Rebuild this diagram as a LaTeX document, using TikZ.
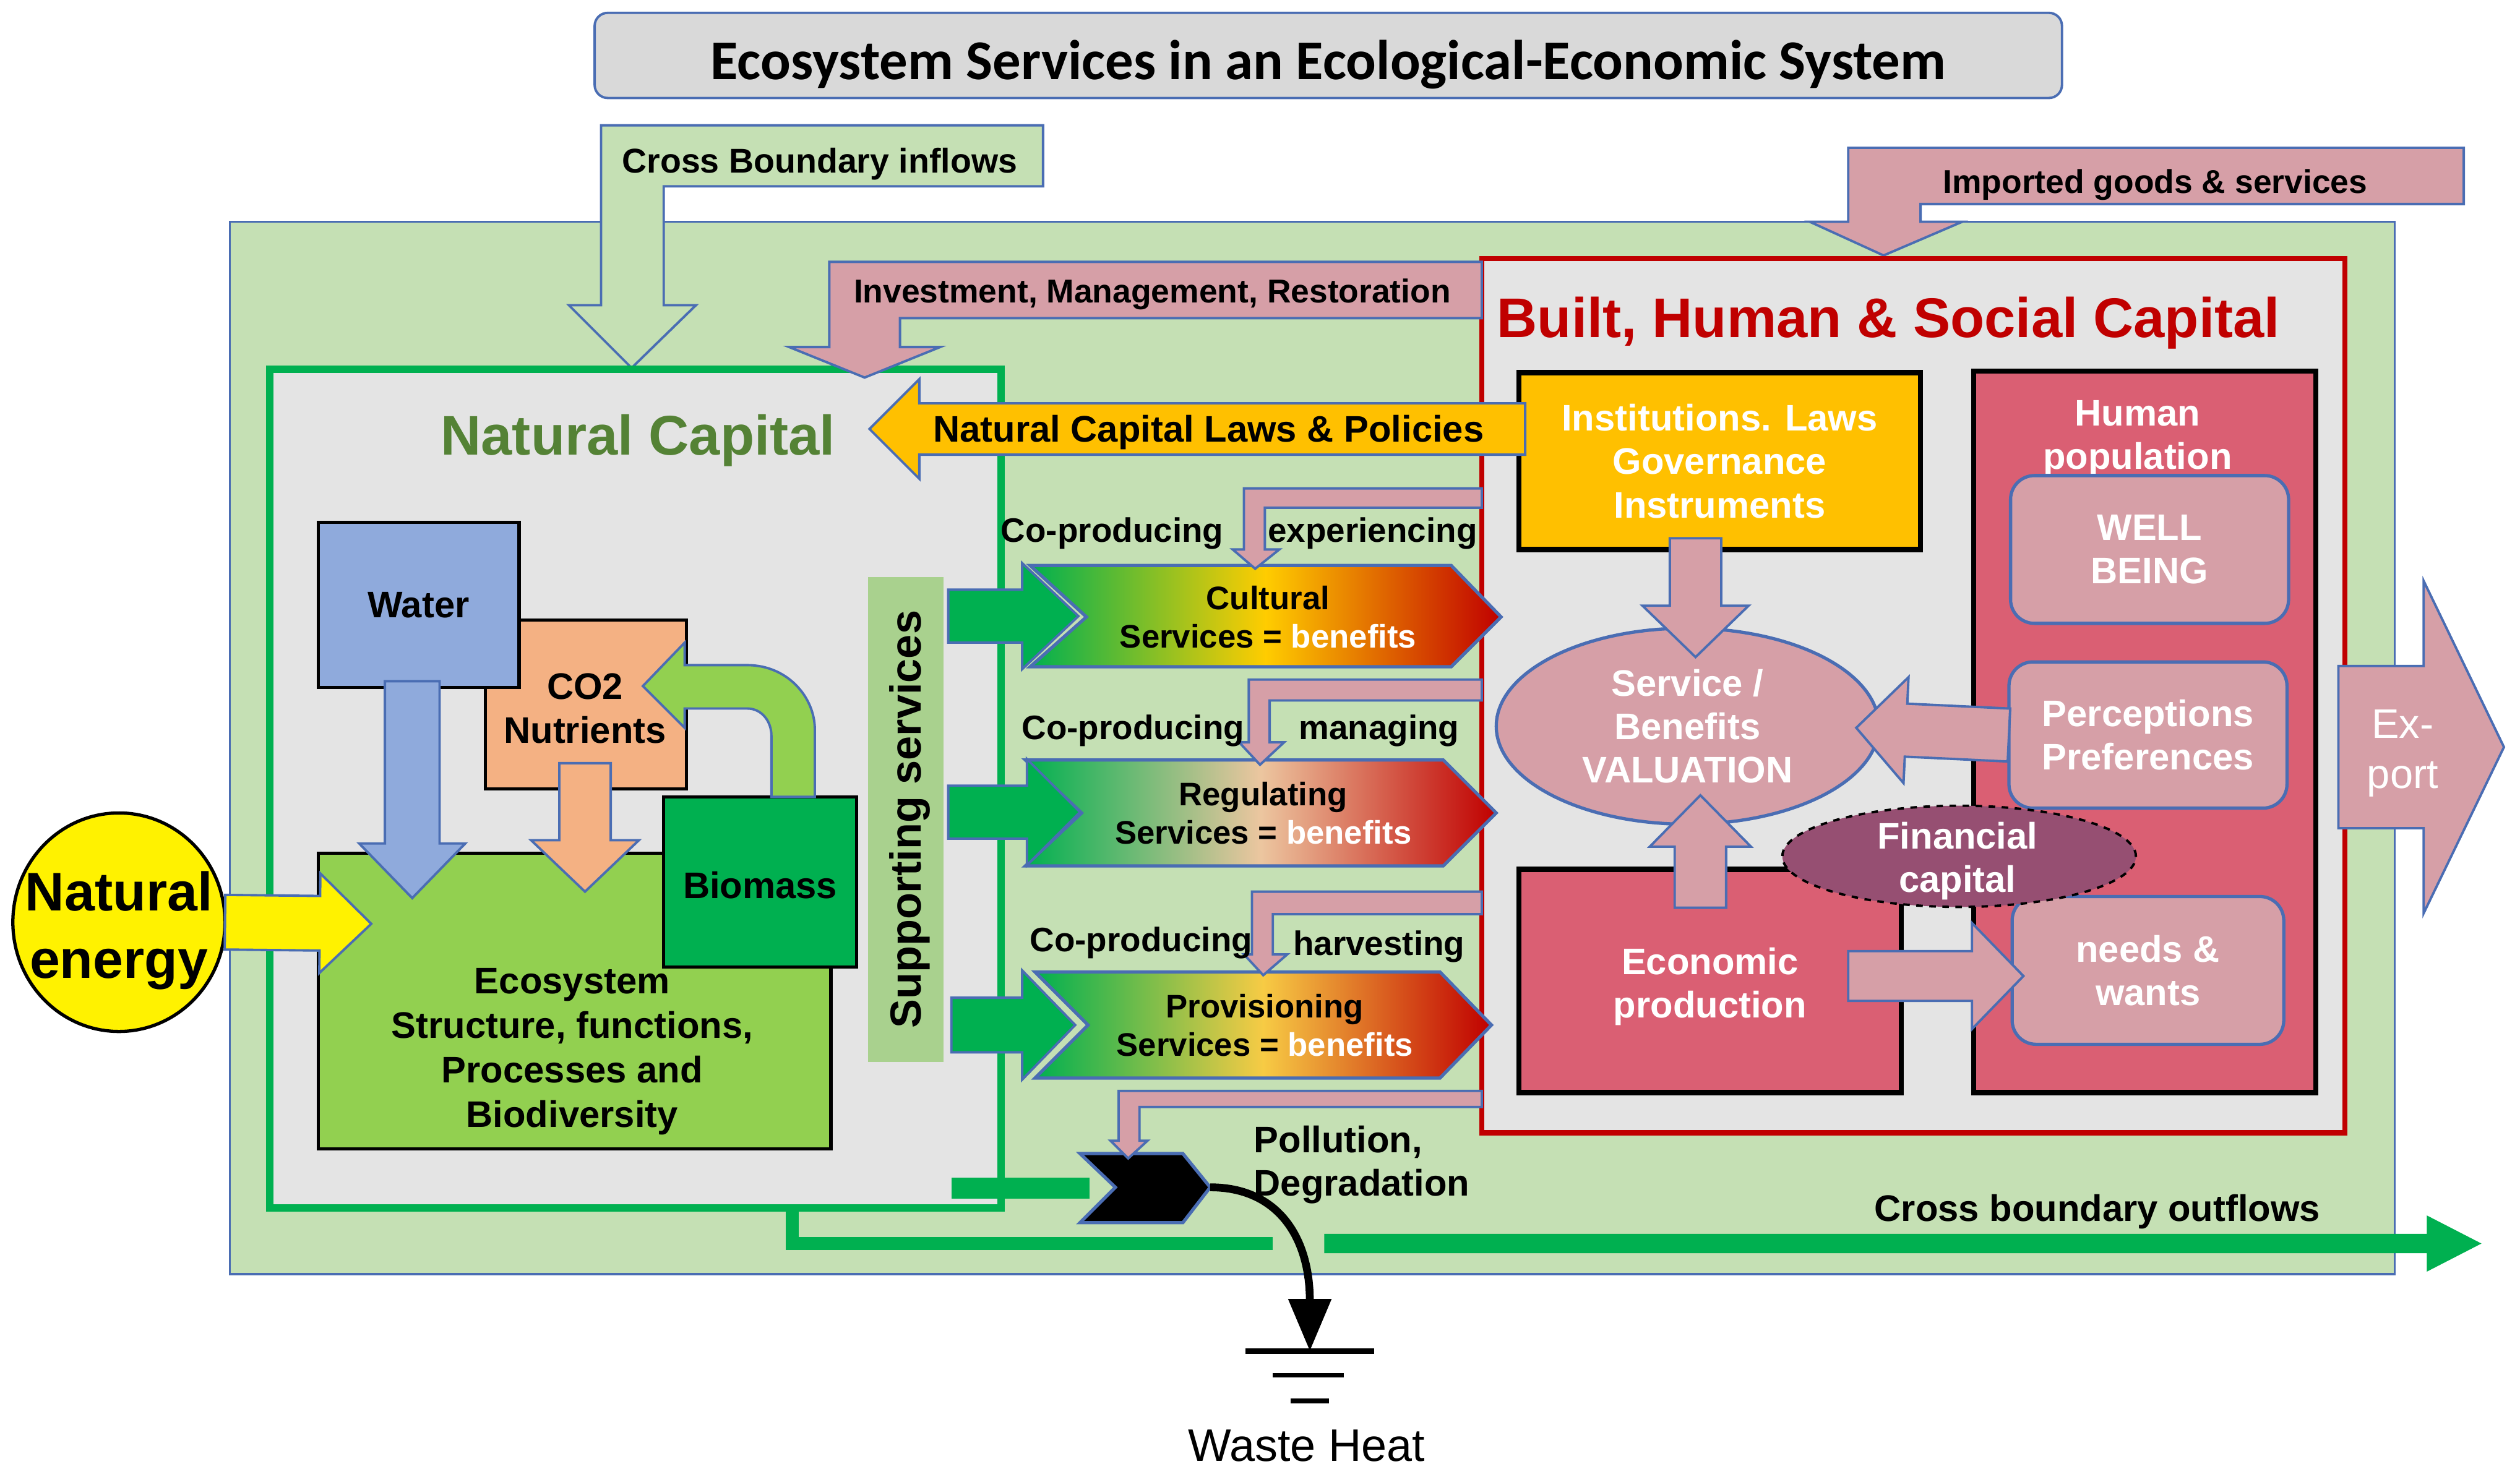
\documentclass[tikz,border=0pt]{standalone}
\usepackage{fontspec}
\setmainfont{Liberation Sans}
\newfontfamily\titlefont{Carlito}
\usetikzlibrary{calc,shapes.geometric,arrows.meta}
\definecolor{edgeblue}{HTML}{4A6DB3}
\definecolor{systemgreen}{HTML}{C5E0B4}
\definecolor{panelgray}{HTML}{E4E4E4}
\definecolor{capitalgreen}{HTML}{00B050}
\definecolor{leafgreen}{HTML}{92D050}
\definecolor{sagegreen}{HTML}{A9D18E}
\definecolor{titlegreen}{HTML}{548235}
\definecolor{capitalred}{HTML}{C00000}
\definecolor{dustypink}{HTML}{D69FA7}
\definecolor{rosered}{HTML}{DA5F73}
\definecolor{plum}{HTML}{964F72}
\definecolor{goldbox}{HTML}{FFC000}
\definecolor{waterblue}{HTML}{8FAADC}
\definecolor{sandorange}{HTML}{F4B183}
\newcommand{\ux}{0.025976cm}
\newcommand{\blockarrow}[6]{
  \coordinate (base) at ($(#3)!#6*\ux!(#2)$);
  \draw[#1] ($(#2)!#4*\ux!90:(base)$) -- ($(base)!#4*\ux!-90:(#2)$)
    -- ($(base)!#5*\ux!-90:(#2)$) -- (#3) -- ($(base)!#5*\ux!90:(#2)$)
    -- ($(base)!#4*\ux!90:(#2)$) -- ($(#2)!#4*\ux!-90:(base)$) -- cycle;
}
\begin{document}
\begin{tikzpicture}
  [x=0.025976cm,y=-0.025976cm,
  sized/.style 2 args={minimum width=#1*\ux,minimum height=#2*\ux,inner sep=0pt,outer sep=0pt},
  lbl/.style={font=\bfseries\fontsize{17}{20}\selectfont,align=center,inner sep=0pt},
  smalllbl/.style={font=\bfseries\fontsize{15.2}{20}\selectfont,align=center,inner sep=0pt},
  coprodlbl/.style={font=\bfseries\fontsize{15.6}{20}\selectfont,align=center,inner sep=0pt},
  servlbl/.style={font=\bfseries\fontsize{15}{17.7}\selectfont,align=center,inner sep=0pt},
  whitelbl/.style={lbl,text=white},
  bigtitle/.style={font=\bfseries\fontsize{25.7}{30}\selectfont,inner sep=0pt},
  blackbox/.style={draw=black,line width=1.5pt},
  heavybox/.style={draw=black,line width=2.4pt},
  softbox/.style={draw=edgeblue,fill=dustypink,line width=1.5pt,rounded corners=11pt},
  flow/.style={draw=edgeblue,line width=1.1pt,miter limit=20},
  pinkflow/.style={flow,fill=dustypink},
  greenflow/.style={flow,fill=capitalgreen},
  servicebox/.style={flow,line width=1.5pt,left color=capitalgreen,right color=capitalred}]

  \useasboundingbox (0,0) rectangle (1568,919);

  % frame and heading
  \node[sized={1347}{655},draw=edgeblue,fill=systemgreen,line width=1.1pt] (system) at (816.5,465.5) {};
  \node[sized={913}{53},draw=edgeblue,fill=black!15,line width=1.1pt,rounded corners=6pt] (heading) at (826.5,34.5) {};
  \node[font=\titlefont\bfseries\fontsize{25.85}{30}\selectfont,inner sep=0pt] (headinglbl) at (826.5,40) {Ecosystem Services in an Ecological-Economic System};

  % flows from outside
  \coordinate (inflowtip) at (393,229);
  \coordinate (importtip) at (1172,159);
  \draw[flow,fill=systemgreen] (374,78) -- (649,78) -- (649,116) -- (413,116) -- (413,190)
    -- (433,190) -- (inflowtip) -- (354,190) -- (374,190) -- cycle;
  \node[smalllbl,font=\bfseries\fontsize{15.8}{20}\selectfont] (inflowlbl) at (510,102) {Cross Boundary inflows};
  \draw[pinkflow] (1150,92) -- (1533,92) -- (1533,127) -- (1195,127) -- (1195,138)
    -- (1221,138) -- (importtip) -- (1126,138) -- (1150,138) -- cycle;
  \node[smalllbl] (importlbl) at (1341,115) {Imported goods \& services};

  % the two capitals
  \node[sized={455}{522},draw=capitalgreen,fill=panelgray,line width=3.4pt] (natcap) at (395.5,491) {};
  \node[sized={537}{544},draw=capitalred,fill=panelgray,line width=2.4pt] (built) at (1190.5,433) {};
  \node[bigtitle,text=titlegreen] (natcaplbl) at (397,274) {Natural Capital};
  \node[bigtitle,text=capitalred] (builtlbl) at (1175,201) {Built, Human \& Social Capital};

  \coordinate (investtip) at (538,235);
  \draw[pinkflow] (built.west |- 0,163) -- (516,163) -- (516,198) -- (516,216) -- (491,216)
    -- (investtip) -- (585,216) -- (560,216) -- (560,198) -- (built.west |- 0,198) -- cycle;
  \node[smalllbl] (investlbl) at (717,183) {Investment, Management, Restoration};

  % natural capital stocks
  \node[sized={125}{105},blackbox,fill=sandorange] (co2) at (364.5,438.5) {};
  \node[lbl] (co2lbl) at (364,441) {CO2\\Nutrients};
  \node[sized={125}{103},blackbox,fill=waterblue,lbl,inner sep=0pt] (water) at (260.5,376.5) {Water};
  \node[sized={319}{184},blackbox,fill=leafgreen] (ecosystem) at (357.5,623) {};
  \node[sized={120}{106},blackbox,fill=capitalgreen] (biomass) at (473,549) {};
  \node[lbl] (biomasslbl) at (473,551) {Biomass};
  \node[lbl,font=\bfseries\fontsize{17}{20.5}\selectfont] (ecosystemlbl) at (356,654.5) {Ecosystem\\Structure, functions,\\Processes and\\Biodiversity};
  \node[sized={132}{136},draw=black,fill=yellow,line width=1.5pt,shape=ellipse] (energy) at (74,574) {};
  \node[font=\bfseries\fontsize{25}{31}\selectfont,align=center,inner sep=0pt] (energylbl) at (74,579) {Natural\\energy};

  \coordinate (watertail) at (256.5,424);
  \coordinate (watertip) at (256.5,559);
  \coordinate (co2tail) at (364,475);
  \coordinate (co2tip) at (364,555);
  \coordinate (energytip) at (231,575);
  \coordinate (biomasstip) at (400,427);
  \blockarrow{flow,fill=waterblue}{watertail}{watertip}{17}{33}{34}
  \blockarrow{flow,fill=sandorange}{co2tail}{co2tip}{16}{33.5}{32}
  \blockarrow{flow,fill=yellow}{energy.east}{energytip}{17}{31}{32}
  \draw[flow,fill=leafgreen] (biomass.north -| 480,0) -- (480,458) .. controls (480,449) and (474,441) .. (465,441)
    -- (426,441) -- (426,453) -- (biomasstip) -- (426,400) -- (426,414) -- (465,414)
    .. controls (490,414) and (507,434) .. (507,454) -- (biomass.north -| 507,0) -- cycle;

  % services
  \node[sized={47}{302},fill=sagegreen] (supporting) at (563.5,510) {};
  \node[rotate=90,font=\bfseries\fontsize{20}{24}\selectfont,inner sep=0pt] (supportinglbl) at (566,510) {Supporting services};

  \path[servicebox,middle color=goldbox!80!yellow] (641,352) -- (903,352) -- (934,384) -- (903,415) -- (641,415) -- (676,384) -- cycle;
  \path[servicebox,middle color=orange!30!panelgray] (638,473) -- (898,473) -- (931,506) -- (898,539) -- (638,539) -- (673,506) -- cycle;
  \path[servicebox,middle color=goldbox!70!panelgray] (644,605) -- (896,605) -- (928,638) -- (896,671) -- (644,671) -- (677,638) -- cycle;
  \coordinate (culturetail) at (590,383.5);
  \coordinate (culturetip) at (671,383.5);
  \coordinate (regulatetail) at (590,505.5);
  \coordinate (regulatetip) at (672,505.5);
  \coordinate (provisiontail) at (592,638);
  \coordinate (provisiontip) at (669,638);
  \blockarrow{greenflow}{culturetail}{culturetip}{16.5}{33}{35}
  \blockarrow{greenflow}{regulatetail}{regulatetip}{16.5}{33}{33}
  \blockarrow{greenflow}{provisiontail}{provisiontip}{17}{34}{33}
  \node[servlbl] (cultural) at (789,384) {Cultural\\Services = \textcolor{white}{benefits}};
  \node[servlbl] (regulating) at (786,506) {Regulating\\Services = \textcolor{white}{benefits}};
  \node[servlbl] (provisioning) at (787,638) {Provisioning\\Services = \textcolor{white}{benefits}};

  \coordinate (culturefeed) at (781,354);
  \coordinate (regulatefeed) at (784,476);
  \coordinate (provisionfeed) at (786,607);
  \coordinate (wastefeed) at (702,721);
  \draw[pinkflow] (built.west |- 0,304) -- (774,304) -- (774,342) -- (767,342) -- (culturefeed)
    -- (796,342) -- (787,342) -- (787,316) -- (built.west |- 0,316) -- cycle;
  \draw[pinkflow] (built.west |- 0,423) -- (777,423) -- (777,462) -- (771,462) -- (regulatefeed)
    -- (799,462) -- (790,462) -- (790,436) -- (built.west |- 0,436) -- cycle;
  \draw[pinkflow] (built.west |- 0,555) -- (779,555) -- (779,594) -- (774,594) -- (provisionfeed)
    -- (801,594) -- (792,594) -- (792,569) -- (built.west |- 0,569) -- cycle;
  \node[coprodlbl] (coprod1) at (692,332) {Co-producing};
  \node[coprodlbl] (experiencing) at (854,332) {experiencing};
  \node[coprodlbl] (coprod2) at (705,455) {Co-producing};
  \node[coprodlbl] (managing) at (858,455) {managing};
  \node[coprodlbl] (coprod3) at (710,587) {Co-producing};
  \node[coprodlbl] (harvesting) at (858,589) {harvesting};

  % human side
  \node[sized={250}{110},heavybox,fill=goldbox] (institutions) at (1070,287) {};
  \node[whitelbl] (institutionslbl) at (1070,287) {Institutions. Laws\\Governance\\Instruments};
  \node[sized={213}{449},heavybox,fill=rosered] (population) at (1334.5,455.5) {};
  \node[whitelbl] (populationlbl) at (1330,273) {Human\\population};
  \node[sized={238}{139},heavybox,fill=rosered] (economic) at (1064,610.5) {};
  \node[whitelbl] (economiclbl) at (1064,614) {Economic\\production};
  \node[sized={173}{92},softbox,whitelbl,inner sep=0pt] (wellbeing) at (1337.5,342) {WELL\\BEING};
  \node[sized={173}{91},softbox,whitelbl,inner sep=0pt] (perceptions) at (1336.5,457.5) {Perceptions\\Preferences};
  \node[sized={169}{92},softbox,whitelbl,inner sep=0pt] (needs) at (1336.5,604) {needs \&\\wants};
  \node[sized={238}{122},shape=ellipse,draw=edgeblue,fill=dustypink,line width=1.5pt,whitelbl,inner sep=0pt] (valuation) at (1050,452) {Service /\\Benefits\\VALUATION};

  \coordinate (valuationtop) at (1055,409);
  \coordinate (institutionsout) at (1055,335);
  \coordinate (valuationright) at (1155,453);
  \coordinate (valuationlow) at (1058,495);
  \coordinate (economicout) at (1058,565);
  \coordinate (economicright) at (1150,607.5);
  \coordinate (needstip) at (1259,607.5);
  \blockarrow{pinkflow}{institutionsout}{valuationtop}{16}{33}{32}
  \blockarrow{pinkflow}{perceptions.west}{valuationright}{16.5}{33}{31}
  \blockarrow{pinkflow}{economicout}{valuationlow}{16}{31.5}{32}
  \blockarrow{pinkflow}{economicright}{needstip}{15.5}{33}{32}
  \node[sized={220}{63},shape=ellipse,draw=black,dashed,fill=plum,line width=1.1pt] (financial) at (1219,533) {};
  \node[whitelbl] (financiallbl) at (1218,536) {Financial\\capital};

  \coordinate (exporttail) at (1455,465);
  \coordinate (exporttip) at (1558,465);
  \blockarrow{pinkflow}{exporttail}{exporttip}{50.5}{103.5}{50}
  \node[font=\fontsize{19}{23}\selectfont,align=center,text=white,inner sep=0pt] (exportlbl) at (1495,469) {Ex-\\port};

  % policy arrow
  \coordinate (lawtail) at (949,267);
  \coordinate (lawtip) at (541,267);
  \blockarrow{flow,fill=goldbox}{lawtail}{lawtip}{16}{31}{31}
  \node[lbl] (lawlbl) at (752,269) {Natural Capital Laws \& Policies};

  % waste and outflows
  \coordinate (wastetip) at (753,739);
  \coordinate (ground) at (815,841);
  \coordinate (outgapleft) at (792,774);
  \coordinate (outgapright) at (824,774);
  \coordinate (outtip) at (1544,774);
  \draw[capitalgreen,line width=8*\ux] (493,0 |- natcap.south) -- (493,774) -- (outgapleft);
  \blockarrow{fill=capitalgreen,draw=none}{outgapright}{outtip}{6}{17.5}{34}
  \node[lbl] (outflowlbl) at (1305,754) {Cross boundary outflows};
  \draw[fill=capitalgreen,draw=none] (592,733) rectangle (678,746);
  \draw[flow,line width=1.5pt,fill=black] (672,718) -- (736,718) -- (wastetip) -- (736,761) -- (672,761) -- (694,739) -- cycle;
  \draw[pinkflow] (built.west |- 0,679) -- (696,679) -- (696,710) -- (691,710) -- (wastefeed)
    -- (714,710) -- (709,710) -- (709,689) -- (built.west |- 0,689) -- cycle;
  \node[lbl,align=left,anchor=west] (pollutionlbl) at (780,725) {Pollution,\\Degradation};
  \draw[line width=3.6pt,-{Triangle[width=19pt,length=24pt]}] (wastetip) .. controls (795,739) and (815,770) .. (ground);
  \draw[line width=2.6pt] (775,841) -- (855,841);
  \draw[line width=2.2pt] (792,856) -- (836,856);
  \draw[line width=2.2pt] (803,872) -- (827,872);
  \node[font=\fontsize{21}{24}\selectfont,inner sep=0pt] (wasteheat) at (813,900) {Waste Heat};
\end{tikzpicture}
\end{document}
